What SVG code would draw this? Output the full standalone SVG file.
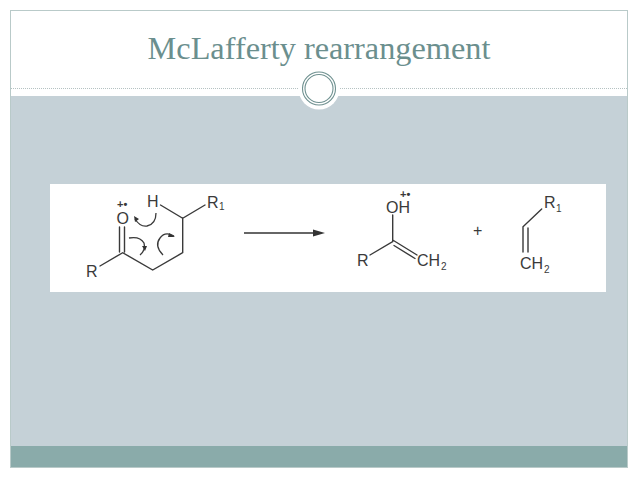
<svg xmlns="http://www.w3.org/2000/svg" width="638" height="478" viewBox="0 0 638 478">
<style>
.b{fill:none;stroke:#3a3a3a;stroke-width:1.4;stroke-linecap:round}
.a{fill:none;stroke:#3a3a3a;stroke-width:1.3}
.h{fill:#333}
.t{font-family:"Liberation Sans",Arial,sans-serif;font-size:16px;fill:#3a3a3a}
.s{font-family:"Liberation Sans",Arial,sans-serif;font-size:10px;fill:#3a3a3a}
.d{font-family:"Liberation Sans",Arial,sans-serif;font-size:11px;font-weight:bold;fill:#3a3a3a}
</style>
<rect width="638" height="478" fill="#fff"/>
<g id="slide">
<rect x="10.5" y="10.5" width="617" height="457" fill="#fff" stroke="#b9cac9"/>
<rect x="11" y="96" width="616" height="350" fill="#c5d1d7"/>
<rect x="11" y="446" width="616" height="21" fill="#8aabaa"/>
<line x1="11" y1="88.500" x2="298" y2="88.500" stroke="#b5c2c2" stroke-dasharray="1 1"/>
<line x1="340" y1="88.500" x2="627" y2="88.500" stroke="#b5c2c2" stroke-dasharray="1 1"/>
<circle cx="319" cy="89" r="20.500" fill="#fff"/>
<circle cx="319" cy="88.500" r="16.500" fill="#fff" stroke="#6f9190" stroke-width="1.100"/>
<circle cx="319" cy="88.500" r="14" fill="#fff" stroke="#6f9190" stroke-width="1.100"/>
<text x="319" y="59" text-anchor="middle" font-family="Liberation Serif,Times New Roman,serif" font-size="32.300" fill="#6b8f8e" font-size-adjust="none">McLafferty rearrangement</text>
</g>
<rect x="50" y="184" width="556" height="108" fill="#fff"/>
<g id="reactant">
<path class="b" d="M160.500 205L182.700 218.300L205 205M182.700 218.300V252.700L152.700 270L122.700 252.700L100 266M119.500 227V252M124.500 227V252"/>
<path class="a" d="M135 219Q140 227 147 226Q156 224 156 213"/>
<path class="a" d="M129 238Q140 236 144 243Q146 250 140 255"/>
<path class="a" d="M174 236Q165 231 160 238Q154 246 163 255"/>
<path class="h" d="M134 216l5 3-4 3zM145 251l-3-5 5-0zM175 237l-6-4 -1 4z"/>
<text class="t" x="116.500" y="224">O</text>
<text class="t" x="147" y="207">H</text>
<text class="t" x="207" y="208">R</text><text class="s" x="219" y="210">1</text>
<text class="t" x="86" y="277">R</text>
<text class="d" x="117" y="208">+•</text>
</g>
<g id="arrow">
<line x1="244" y1="233" x2="315" y2="233" stroke="#333" stroke-width="1.300"/>
<path class="h" d="M325 233l-12-3.500 0 7z"/>
</g>
<g id="enol">
<path class="b" d="M392.700 215V241.700L370 255M392.700 240L417 255M394 245.500L415 258.500"/>
<text class="t" x="386" y="213">OH</text>
<text class="d" x="400" y="198">+•</text>
<text class="t" x="357" y="266">R</text>
<text class="t" x="417" y="266">CH</text><text class="s" x="441" y="270">2</text>
</g>
<g id="plus"><text class="t" x="473" y="236">+</text></g>
<g id="alkene">
<path class="b" d="M541.700 209L523 226.700V252M528 228V252"/>
<text class="t" x="544" y="208">R</text><text class="s" x="556" y="212">1</text>
<text class="t" x="520" y="269">CH</text><text class="s" x="544" y="273">2</text>
</g>
</svg>
